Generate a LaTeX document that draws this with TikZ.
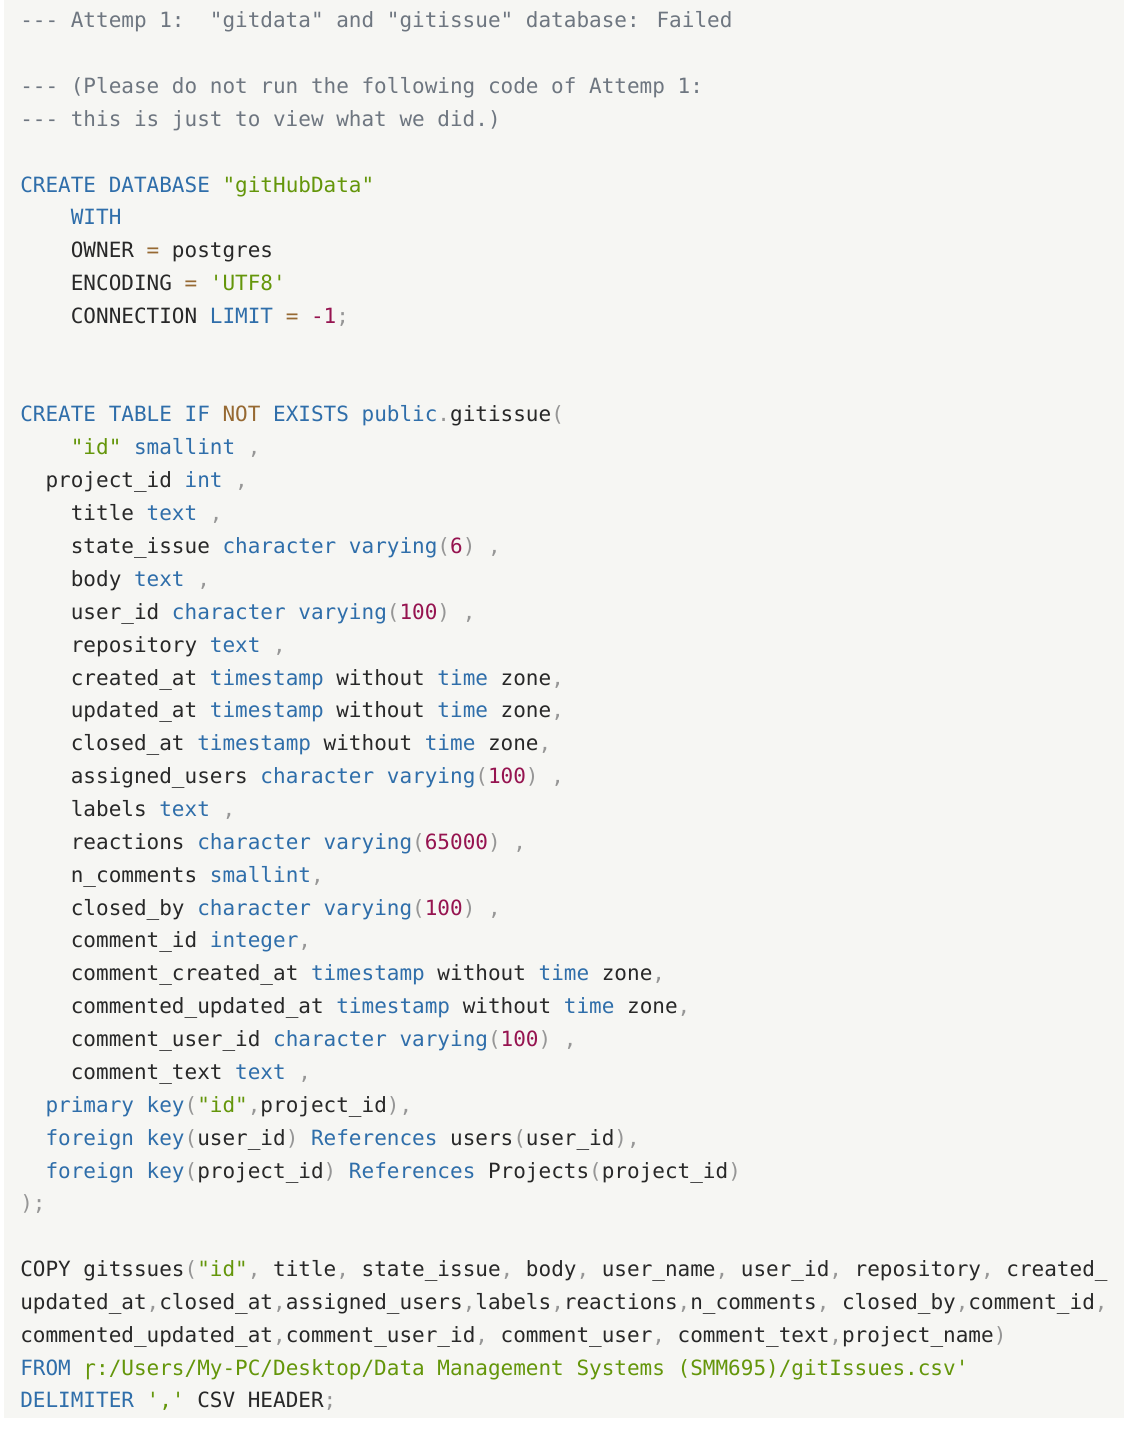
\documentclass[tikz,border=0pt]{standalone}
\usepackage{fontspec}
\newfontfamily\codefont{DejaVu Sans Mono}[Ligatures=ResetAll]
\definecolor{bgc}{RGB}{246,246,243}
\definecolor{kwc}{RGB}{47,110,170}
\definecolor{strc}{RGB}{100,150,10}
\definecolor{nmc}{RGB}{150,20,80}
\definecolor{cmc}{RGB}{110,118,128}
\definecolor{puc}{RGB}{150,150,150}
\definecolor{opc}{RGB}{150,105,50}
\definecolor{txc}{RGB}{40,40,40}
\newcommand{\kw}[1]{\textcolor{kwc}{#1}}
\newcommand{\str}[1]{\textcolor{strc}{#1}}
\newcommand{\nm}[1]{\textcolor{nmc}{#1}}
\newcommand{\pu}[1]{\textcolor{puc}{#1}}
\newcommand{\op}[1]{\textcolor{opc}{#1}}
\newcommand{\dq}{\char"22}
\newcommand{\sqt}{\char"27}
\newcommand{\dsh}{\char"2D\char"2D\char"2D}
\newcommand{\ind}[1]{\hspace*{#1\fontcharwd\font`x}}
\tikzset{ln/.style={anchor=base west,inner sep=0pt,font=\codefont\fontsize{15.75}{18}\selectfont,text=txc}}
\begin{document}
\begin{tikzpicture}[x=0.75pt,y=-0.75pt]
\useasboundingbox (0,0) rectangle (1124,1442);
\fill[bgc] (4,0) rectangle (1124,1418);
\begin{scope}
\clip (0,0) rectangle (1124,1442);
\node[ln] (l1) at (20,27) {\textcolor{cmc}{\dsh{} Attemp 1:\ind{2}\dq gitdata\dq{} and \dq gitissue\dq{} database: Failed}};
\node[ln] (l2) at (20,93) {\textcolor{cmc}{\dsh{} (Please do not run the following code of Attemp 1:}};
\node[ln] (l3) at (20,126) {\textcolor{cmc}{\dsh{} this is just to view what we did.)}};
\node[ln] (l4) at (20,192) {\kw{CREATE DATABASE} \str{\dq gitHubData\dq}};
\node[ln] (l5) at (20,224) {\ind{4}\kw{WITH}};
\node[ln] (l6) at (20,257) {\ind{4}OWNER \op{=} postgres};
\node[ln] (l7) at (20,290) {\ind{4}ENCODING \op{=} \str{\sqt UTF8\sqt}};
\node[ln] (l8) at (20,323) {\ind{4}CONNECTION \kw{LIMIT} \op{=} \nm{-1}\pu{;}};
\node[ln] (l9) at (20,421) {\kw{CREATE TABLE IF} \op{NOT} \kw{EXISTS public}\pu{.}gitissue\pu{(}};
\node[ln] (l10) at (20,454) {\ind{4}\str{\dq id\dq} \kw{smallint} \pu{,}};
\node[ln] (l11) at (20,487) {\ind{2}project\_id \kw{int} \pu{,}};
\node[ln] (l12) at (20,520) {\ind{4}title \kw{text} \pu{,}};
\node[ln] (l13) at (20,553) {\ind{4}state\_issue \kw{character varying}\pu{(}\nm{6}\pu{)} \pu{,}};
\node[ln] (l14) at (20,586) {\ind{4}body \kw{text} \pu{,}};
\node[ln] (l15) at (20,619) {\ind{4}user\_id \kw{character varying}\pu{(}\nm{100}\pu{)} \pu{,}};
\node[ln] (l16) at (20,652) {\ind{4}repository \kw{text} \pu{,}};
\node[ln] (l17) at (20,685) {\ind{4}created\_at \kw{timestamp} without \kw{time} zone\pu{,}};
\node[ln] (l18) at (20,717) {\ind{4}updated\_at \kw{timestamp} without \kw{time} zone\pu{,}};
\node[ln] (l19) at (20,750) {\ind{4}closed\_at \kw{timestamp} without \kw{time} zone\pu{,}};
\node[ln] (l20) at (20,783) {\ind{4}assigned\_users \kw{character varying}\pu{(}\nm{100}\pu{)} \pu{,}};
\node[ln] (l21) at (20,816) {\ind{4}labels \kw{text} \pu{,}};
\node[ln] (l22) at (20,849) {\ind{4}reactions \kw{character varying}\pu{(}\nm{65000}\pu{)} \pu{,}};
\node[ln] (l23) at (20,882) {\ind{4}n\_comments \kw{smallint}\pu{,}};
\node[ln] (l24) at (20,915) {\ind{4}closed\_by \kw{character varying}\pu{(}\nm{100}\pu{)} \pu{,}};
\node[ln] (l25) at (20,947) {\ind{4}comment\_id \kw{integer}\pu{,}};
\node[ln] (l26) at (20,980) {\ind{4}comment\_created\_at \kw{timestamp} without \kw{time} zone\pu{,}};
\node[ln] (l27) at (20,1013) {\ind{4}commented\_updated\_at \kw{timestamp} without \kw{time} zone\pu{,}};
\node[ln] (l28) at (20,1046) {\ind{4}comment\_user\_id \kw{character varying}\pu{(}\nm{100}\pu{)} \pu{,}};
\node[ln] (l29) at (20,1079) {\ind{4}comment\_text \kw{text} \pu{,}};
\node[ln] (l30) at (20,1112) {\ind{2}\kw{primary key}\pu{(}\str{\dq id\dq}\pu{,}project\_id\pu{),}};
\node[ln] (l31) at (20,1145) {\ind{2}\kw{foreign key}\pu{(}user\_id\pu{)} \kw{References} users\pu{(}user\_id\pu{),}};
\node[ln] (l32) at (20,1178) {\ind{2}\kw{foreign key}\pu{(}project\_id\pu{)} \kw{References} Projects\pu{(}project\_id\pu{)}};
\node[ln] (l33) at (20,1210) {\pu{);}};
\node[ln] (l34) at (20,1276) {COPY gitssues\pu{(}\str{\dq id\dq}\pu{,} title\pu{,} state\_issue\pu{,} body\pu{,} user\_name\pu{,} user\_id\pu{,} repository\pu{,} created\_};
\node[ln] (l35) at (20,1309) {updated\_at\pu{,}closed\_at\pu{,}assigned\_users\pu{,}labels\pu{,}reactions\pu{,}n\_comments\pu{,} closed\_by\pu{,}comment\_id\pu{,}};
\node[ln] (l36) at (20,1342) {commented\_updated\_at\pu{,}comment\_user\_id\pu{,} comment\_user\pu{,} comment\_text\pu{,}project\_name\pu{)}};
\node[ln] (l37) at (20,1375) {\kw{FROM} \str{\sqt C:/Users/My-PC/Desktop/Data Management Systems (SMM695)/gitIssues.csv\sqt}};
\node[ln] (l38) at (20,1407) {\kw{DELIMITER} \str{\sqt,\sqt} CSV HEADER\pu{;}};
\end{scope}
\end{tikzpicture}
\end{document}
